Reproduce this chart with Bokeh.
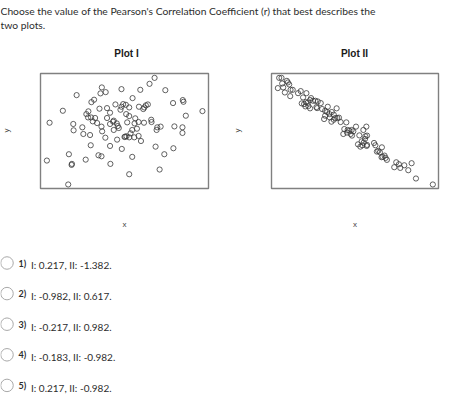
from bokeh.plotting import figure
from bokeh.models import Range1d
from bokeh.core.properties import value
from bokeh.embed import file_html
from bokeh.resources import INLINE
import math

# ---- data ----
header_lines = ["Choose the value of the Pearson's Correlation Coefficient (r) that best describes the",
                "two plots."]
plot_titles = ["Plot I", "Plot II"]
option_numbers = ["1)", "2)", "3)", "4)", "5)"]
option_texts = ["I: 0.217, II: -1.382.", "I: -0.982, II: 0.617.", "I: -0.217, II: 0.982.",
                "I: -0.183, II: -0.982.", "I: 0.217, II: -0.982."]

x1 = [67.9, 64.9, 36.5, 48.2, 59.4, 74.3, 35.7, 38.8, 21.5, 54.8, 31.9, 30.3, 78.9, 84.7, 85.1,
      44.6, 49.2, 50.8, 48.2, 52.8, 47.6, 58.6, 61.8, 62.7, 63.9, 61.2, 13.3, 35.1, 39.6, 28.5,
      41.4, 96.4, 27.3, 51.0, 52.8, 28.3, 30.1, 32.5, 39.6, 86.5, 56.4, 31.1, 33.7, 43.2, 43.6,
      41.4, 45.4, 51.6, 58.4, 61.6, 65.9, 66.1, 5.4, 19.5, 36.3, 46.0, 46.6, 56.0, 57.4, 54.6,
      24.9, 19.7, 36.7, 43.6, 69.5, 71.5, 69.1, 79.7, 84.5, 29.5, 25.5, 38.6, 50.4, 51.2, 53.6,
      52.8, 55.8, 58.4, 84.5, 45.6, 59.8, 29.9, 41.4, 68.5, 79.1, 48.4, 16.9, 34.5, 36.3, 73.7,
      54.6, 26.9, 3.8, 18.7, 18.5, 41.6, 70.9, 52.8, 16.5, 50.0]
y1 = [96.2, 91.0, 87.9, 86.4, 85.8, 85.5, 82.7, 83.8, 81.2, 78.6, 77.2, 75.1, 74.3, 76.9, 75.4,
      73.1, 73.4, 72.8, 71.1, 70.5, 68.5, 71.1, 70.5, 72.3, 73.1, 69.1, 67.6, 69.4, 69.9, 67.1,
      65.9, 67.3, 64.7, 64.7, 63.0, 61.8, 61.8, 61.3, 61.3, 63.3, 61.0, 58.4, 56.9, 58.1, 59.0,
      56.1, 56.6, 57.5, 57.8, 57.2, 59.8, 57.8, 57.2, 56.1, 53.8, 54.3, 52.6, 56.6, 52.0, 50.9,
      53.2, 50.6, 49.7, 50.9, 53.2, 53.8, 50.9, 54.0, 53.2, 46.5, 47.4, 44.2, 45.1, 45.4, 48.0,
      44.5, 44.5, 45.7, 48.3, 42.5, 41.3, 37.6, 37.0, 36.4, 35.0, 34.4, 29.8, 28.9, 28.0, 29.8,
      27.5, 25.1, 24.3, 21.4, 20.5, 21.4, 16.5, 12.4, 3.5, 44.8]

x2 = [4.6, 6.0, 9.2, 9.8, 6.4, 10.6, 3.8, 7.0, 11.4, 12.7, 8.0, 11.2, 15.9, 17.5, 20.9, 18.9,
      23.7, 23.1, 24.9, 26.3, 27.7, 20.7, 21.7, 18.1, 19.5, 20.3, 22.1, 29.5, 26.9, 23.1, 27.3,
      33.7, 30.3, 32.1, 33.3, 36.1, 39.0, 34.7, 32.1, 37.3, 38.2, 39.4, 34.9, 31.5, 37.3, 40.4,
      35.9, 41.4, 44.8, 43.6, 45.6, 46.6, 48.0, 49.0, 45.2, 47.4, 50.6, 55.0, 56.8, 52.6, 56.2,
      57.2, 56.0, 54.0, 55.2, 57.2, 51.8, 54.4, 57.0, 53.2, 61.4, 62.2, 63.9, 64.9, 66.1, 63.1,
      66.5, 67.7, 68.3, 69.1, 65.9, 74.7, 76.3, 73.5, 77.1, 79.5, 83.9, 81.9, 86.5, 96.6, 48.2, 43.0]
y2 = [96.2, 96.2, 93.6, 92.2, 91.3, 90.5, 87.3, 87.9, 85.8, 85.8, 83.5, 80.3, 82.9, 84.7, 82.9,
      79.2, 78.6, 76.9, 76.3, 76.3, 75.7, 75.1, 74.6, 74.0, 73.4, 71.4, 71.7, 74.3, 70.8, 69.7,
      69.9, 71.1, 69.1, 67.6, 66.5, 66.5, 69.7, 64.7, 63.3, 64.2, 61.3, 61.3, 61.8, 60.4, 59.8,
      61.6, 58.1, 57.8, 57.5, 51.7, 50.9, 50.3, 50.9, 49.7, 48.6, 47.4, 53.8, 50.9, 53.8, 46.2,
      45.4, 46.0, 43.1, 41.0, 39.9, 37.9, 38.4, 37.6, 37.0, 36.4, 39.6, 37.6, 32.7, 31.5, 35.8,
      32.1, 27.7, 28.6, 26.6, 24.9, 27.2, 22.8, 21.1, 18.5, 17.9, 20.2, 22.0, 15.9, 8.7, 3.5, 46.0, 47.4]

# ---- layout (page pixel coordinates) ----
W, H = 474, 395

p = figure(width=W, height=H, output_backend="svg", toolbar_location=None,
           x_range=Range1d(0, W), y_range=Range1d(H, 0),
           x_axis_type=None, y_axis_type=None, min_border=0)
p.grid.visible = False
p.outline_line_color = None
p.background_fill_color = "white"
p.border_fill_color = "white"

LATO = value("Lato")
ARIAL = value("Liberation Sans")

# header
p.text(x=[0, 0], y=[10, 24.5], text=header_lines, text_font=LATO, text_font_size="10.3px",
       text_color="#2d2d2d", text_baseline="middle", text_align="left")

# scatter panels
boxes = [(40, 208, 73, 188), (271, 438, 73, 188)]
title_x = [126, 354]
ylab_x = [6, 237]
datasets = [(x1, y1), (x2, y2)]
for i, ((l, r, t, b), (xs, ys)) in enumerate(zip(boxes, datasets)):
    sx = (r - l) / 100.0
    sy = (b - t) / 100.0
    xn, yn = f"px{i}", f"py{i}"
    p.extra_x_ranges[xn] = Range1d(0 - l / sx, 100 + (W - r) / sx)
    p.extra_y_ranges[yn] = Range1d(0 - (H - b) / sy, 100 + t / sy)
    p.quad(left=[l], right=[r], top=[t], bottom=[b], fill_color=None,
           line_color="#808080", line_width=1.4)
    p.scatter(x=xs, y=ys, x_range_name=xn, y_range_name=yn, marker="circle", size=5.2,
              fill_color=None, line_color="#3a3a3a", line_width=0.8)
    p.text(x=[title_x[i]], y=[53], text=[plot_titles[i]], text_font=ARIAL,
           text_font_size="10px", text_font_style="bold", text_color="#1a1a1a",
           text_align="center", text_baseline="middle")
    p.text(x=[(l + r) / 2], y=[224], text=["x"], text_font=ARIAL, text_font_size="8px",
           text_color="#444444", text_align="center", text_baseline="middle")
    p.text(x=[ylab_x[i]], y=[130], text=["y"], text_font=ARIAL, text_font_size="8px",
           text_color="#444444", text_align="center", text_baseline="middle", angle=math.pi / 2)

# options
row_y = [262.5 + 30.6 * k for k in range(len(option_texts))]
p.scatter(x=[6.5] * len(row_y), y=row_y, marker="circle", size=12.5, fill_color="white",
          line_color="#a8a8a8", line_width=1)
p.text(x=[18] * len(row_y), y=[v for v in row_y], text=option_numbers, text_font=LATO,
       text_font_size="9px", text_font_style="bold", text_color="#2d2d2d",
       text_baseline="middle", text_align="left")
p.text(x=[30.5] * len(row_y), y=[v + 2.3 for v in row_y], text=option_texts, text_font=LATO,
       text_font_size="10px", text_color="#2d2d2d", text_baseline="middle", text_align="left")

open("out.html", "w").write(file_html(p, INLINE))
